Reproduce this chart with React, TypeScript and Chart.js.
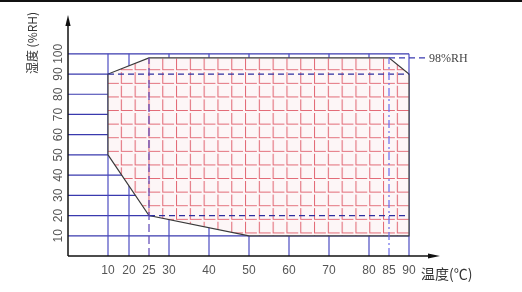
import React, { useEffect, useRef } from 'react';
import { Chart, registerables, LinearScale } from 'chart.js';

Chart.register(...registerables);

// ---- data ----
const X_TICKS = [10, 20, 25, 30, 40, 50, 60, 70, 80, 85, 90];
const Y_TICKS = [10, 20, 30, 40, 50, 60, 70, 80, 90, 100];
const GRID_T = [10, 20, 30, 40, 50, 60, 70, 80, 90];
const GRID_H = [10, 20, 30, 40, 50, 60, 70, 80, 90, 100];
const GRID_T_END = 90;
const GRID_H_END = 100;
const REGION_T = [10, 10, 25, 85, 90, 90, 50, 25, 10];
const REGION_H = [50, 90, 98, 98, 90, 10, 10, 20, 50];
const T_LOW = 25;
const T_HIGH = 85;
const H_HIGH = 90;
const H_LOW = 20;
const RH_MAX = 98;
const RH_LABEL_T = 94;
const X_MIN = 0;
const X_MAX = 97.75;
const Y_MIN = 0;
const Y_MAX = 119.2;
// axis warp: temperature value -> drawing unit (the 10..20 span is compressed in the original)
const WARP_V = [0, 10, 20, 100];
const WARP_U = [0, 10, 15.25, 95.25];

const Y_TITLE = '湿度 (%RH)';
const X_TITLE = '温度(℃)';
const RH_LABEL = '98%RH';

function interp(v: number, xs: number[], ys: number[]) {
  const n = xs.length;
  for (let i = 1; i < n; i++) {
    if (v <= xs[i] || i === n - 1) {
      return ys[i - 1] + ((v - xs[i - 1]) * (ys[i] - ys[i - 1])) / (xs[i] - xs[i - 1]);
    }
  }
  return ys[n - 1];
}

class WarpScale extends LinearScale {
  static id = 'warp';
  static defaults = {};
  getPixelForValue(value: any) {
    if (value === null || value === undefined || isNaN(value)) return NaN;
    const s: any = this;
    const u0 = interp(s.min, WARP_V, WARP_U);
    const u1 = interp(s.max, WARP_V, WARP_U);
    return s.getPixelForDecimal((interp(value, WARP_V, WARP_U) - u0) / (u1 - u0));
  }
  getValueForPixel(pixel: number) {
    const s: any = this;
    const u0 = interp(s.min, WARP_V, WARP_U);
    const u1 = interp(s.max, WARP_V, WARP_U);
    return interp(u0 + s.getDecimalForPixel(pixel) * (u1 - u0), WARP_U, WARP_V);
  }
}
Chart.register(WarpScale as any);

const TICK_FONT = '"Liberation Sans", Arial, sans-serif';
const CJK_FONT = '"Noto Sans CJK SC", sans-serif';

function makePattern(): any {
  const tile = document.createElement('canvas');
  tile.width = 14;
  tile.height = 14;
  const c = tile.getContext('2d')!;
  c.fillStyle = '#fdf6f7';
  c.fillRect(0, 0, 14, 14);
  c.strokeStyle = 'rgba(222, 84, 98, 0.85)';
  c.lineWidth = 1.1;
  c.beginPath();
  c.moveTo(0.5, 2);
  c.lineTo(0.5, 14);
  c.moveTo(0, 13.5);
  c.lineTo(12, 13.5);
  c.stroke();
  const main = document.createElement('canvas').getContext('2d')!;
  const pat: any = main.createPattern(tile, 'repeat');
  const sx = 13.8 / 14;
  const sy = 13.6 / 14;
  try {
    const m = new DOMMatrix();
    m.translateSelf(107.5 - 0.5 * sx, 110.5 - 13.5 * sy);
    m.scaleSelf(sx, sy);
    pat.setTransform(m);
  } catch (e) {}
  return pat;
}

const decorPlugin = {
  id: 'decor',
  beforeDatasetsDraw(chart: any) {
    const { ctx, scales } = chart;
    const x = scales.x;
    const y = scales.y;
    ctx.save();
    ctx.lineWidth = 1.2;
    ctx.strokeStyle = '#3a3aae';
    for (const h of GRID_H) {
      const py = y.getPixelForValue(h);
      ctx.beginPath();
      ctx.moveTo(x.getPixelForValue(X_MIN), py);
      ctx.lineTo(x.getPixelForValue(GRID_T_END), py);
      ctx.stroke();
    }
    ctx.strokeStyle = '#4c4cc2';
    for (const t of GRID_T) {
      const px = x.getPixelForValue(t);
      ctx.beginPath();
      ctx.moveTo(px, y.getPixelForValue(Y_MIN));
      ctx.lineTo(px, y.getPixelForValue(GRID_H_END));
      ctx.stroke();
    }
    ctx.restore();
  },
  afterDatasetsDraw(chart: any) {
    const { ctx, chartArea: ca } = chart;
    ctx.save();
    ctx.strokeStyle = '#111';
    ctx.fillStyle = '#111';
    ctx.lineWidth = 1.5;
    // y axis with arrow
    ctx.beginPath();
    ctx.moveTo(ca.left, ca.bottom);
    ctx.lineTo(ca.left, ca.top + 6);
    ctx.stroke();
    ctx.beginPath();
    ctx.moveTo(ca.left, ca.top);
    ctx.lineTo(ca.left - 2.6, ca.top + 11);
    ctx.lineTo(ca.left + 2.6, ca.top + 11);
    ctx.closePath();
    ctx.fill();
    // x axis with arrow
    ctx.beginPath();
    ctx.moveTo(ca.left, ca.bottom);
    ctx.lineTo(ca.right - 6, ca.bottom);
    ctx.stroke();
    ctx.beginPath();
    ctx.moveTo(ca.right, ca.bottom);
    ctx.lineTo(ca.right - 12, ca.bottom - 2.4);
    ctx.lineTo(ca.right - 12, ca.bottom + 2.4);
    ctx.closePath();
    ctx.fill();
    ctx.restore();
  },
  afterDraw(chart: any) {
    const { ctx, chartArea: ca, scales } = chart;
    ctx.save();
    ctx.fillStyle = '#333';
    ctx.font = '12px ' + CJK_FONT;
    ctx.textAlign = 'center';
    ctx.textBaseline = 'middle';
    ctx.translate(32, 43);
    ctx.rotate(-Math.PI / 2);
    ctx.fillText(Y_TITLE, 0, 0);
    ctx.restore();

    ctx.save();
    ctx.fillStyle = '#333';
    ctx.font = '14px ' + CJK_FONT;
    ctx.textAlign = 'left';
    ctx.textBaseline = 'middle';
    ctx.fillText(X_TITLE, ca.right - 19, 273.5);
    ctx.font = '12px "Liberation Serif", serif';
    ctx.fillStyle = '#444';
    ctx.fillText(RH_LABEL, scales.x.getPixelForValue(RH_LABEL_T) + 4, scales.y.getPixelForValue(RH_MAX) + 1);
    ctx.restore();
  },
};

export default function App() {
  const ref = useRef<HTMLCanvasElement>(null);
  useEffect(() => {
    if (!ref.current) return;
    const pattern = makePattern();
    const pts = (xs: number[], ys: number[]) => xs.map((v, i) => ({ x: v, y: ys[i] }));
    const lineDs = (data: any[], color: string, dash: number[], width = 1.2) => ({
      type: 'line',
      data,
      borderColor: color,
      borderWidth: width,
      borderDash: dash,
      pointRadius: 0,
      fill: false,
      tension: 0,
      order: 0,
    });
    const chart = new Chart(ref.current, {
      type: 'line',
      data: {
        datasets: [
          lineDs(pts([T_LOW, T_LOW], [Y_MIN, RH_MAX]), '#5b45b5', [8, 4]),
          lineDs(pts([T_HIGH, T_HIGH], [Y_MIN, RH_MAX]), '#6c6cec', [8, 3, 2, 3]),
          lineDs(pts([10, 90], [H_HIGH, H_HIGH]), '#2e2ea0', [6, 4]),
          lineDs(pts([T_LOW, 90], [H_LOW, H_LOW]), '#2e2ea0', [6, 4]),
          lineDs(pts([T_HIGH, RH_LABEL_T], [RH_MAX, RH_MAX]), '#3a3ab0', [6, 4]),
          {
            type: 'line',
            data: pts(REGION_T, REGION_H),
            borderColor: '#3a3a3a',
            borderWidth: 1.2,
            backgroundColor: pattern,
            fill: 'shape',
            pointRadius: 0,
            tension: 0,
            order: 10,
          },
        ] as any,
      },
      options: {
        responsive: false,
        animation: false,
        events: [],
        layout: { padding: { top: 15, right: 82, left: 0, bottom: 0 } },
        plugins: { legend: { display: false }, tooltip: { enabled: false }, title: { display: false } },
        scales: {
          x: {
            type: 'warp' as any,
            min: X_MIN,
            max: X_MAX,
            bounds: 'data',
            grid: { display: false, drawTicks: false, tickLength: 0 },
            border: { display: false },
            afterBuildTicks: (s: any) => {
              s.ticks = X_TICKS.map((v) => ({ value: v }));
            },
            afterFit: (s: any) => {
              s.height = 36;
            },
            ticks: {
              autoSkip: false,
              minRotation: 0,
              maxRotation: 0,
              padding: 7,
              color: '#555',
              font: { family: TICK_FONT, size: 12 },
              callback: (v: any) => String(v),
            },
          },
          y: {
            type: 'linear',
            min: Y_MIN,
            max: Y_MAX,
            bounds: 'data',
            grid: { display: false, drawTicks: false, tickLength: 0 },
            border: { display: false },
            afterBuildTicks: (s: any) => {
              s.ticks = Y_TICKS.map((v) => ({ value: v }));
            },
            afterFit: (s: any) => {
              s.width = 68;
            },
            ticks: {
              autoSkip: false,
              minRotation: 90,
              maxRotation: 90,
              crossAlign: 'center',
              padding: -1,
              color: '#555',
              font: { family: TICK_FONT, size: 12 },
              callback: (v: any) => String(v),
            },
          },
        },
      } as any,
      plugins: [decorPlugin],
    });
    return () => chart.destroy();
  }, []);
  return (
    <div style={{ position: 'fixed', left: 0, top: 0, width: 522, height: 292, background: '#fff' }}>
      <canvas ref={ref} width={522} height={292} style={{ display: 'block' }} />
      <div style={{ position: 'absolute', left: 0, top: 0, width: 522, height: 2, background: '#111' }} />
    </div>
  );
}
